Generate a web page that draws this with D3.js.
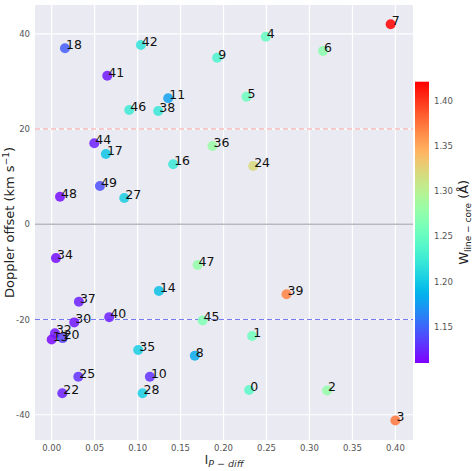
<!DOCTYPE html>
<html>
<head>
<meta charset="utf-8">
<script src="https://cdn.jsdelivr.net/npm/d3@7"></script>
<style>
  body { margin: 0; background: #fff; }
  text { font-family: "DejaVu Sans", sans-serif; }
</style>
</head>
<body>
<svg width="474" height="471"></svg>
<script>
// point ids, intensity difference, doppler offset, line-core width
const ids = [0,1,2,3,4,5,6,7,8,9,10,11,13,14,16,17,18,20,22,24,25,27,28,30,32,34,35,36,37,38,39,40,41,42,44,45,46,47,48,49];
const idiff = [0.2298,0.2333,0.3205,0.400,0.2492,0.2267,0.3158,0.3945,0.1666,0.1926,0.1143,0.1356,0.000,0.1248,0.1414,0.0631,0.0155,0.0128,0.0124,0.2345,0.031,0.0845,0.1058,0.0263,0.0038,0.005,0.1007,0.1872,0.0317,0.124,0.2733,0.067,0.0647,0.1038,0.0496,0.1756,0.0903,0.1698,0.0097,0.0562];
const doppler = [-34.8,-23.45,-34.9,-41.2,39.4,26.8,36.4,42.0,-27.6,34.98,-32.0,26.46,-24.2,-14.0,12.6,14.76,36.95,-23.9,-35.5,12.24,-32.0,5.52,-35.5,-20.6,-22.9,-7.1,-26.4,16.44,-16.25,23.79,-14.7,-19.5,31.2,37.65,17.0,-20.2,24.0,-8.55,5.8,8.04];
const wcore = [1.244,1.256,1.278,1.374,1.250,1.253,1.272,1.421,1.182,1.234,1.129,1.178,1.113,1.194,1.222,1.197,1.147,1.135,1.122,1.320,1.129,1.203,1.203,1.119,1.119,1.116,1.203,1.281,1.122,1.222,1.368,1.122,1.119,1.219,1.122,1.266,1.225,1.278,1.116,1.141];

const xTicks = [0, 0.05, 0.1, 0.15, 0.2, 0.25, 0.3, 0.35, 0.4];
const yTicks = [-40, -20, 0, 20, 40];
const cTicks = [1.15, 1.20, 1.25, 1.30, 1.35, 1.40];

let svg = d3.select("svg");

const plot = {left: 35, right: 413, top: 5, bottom: 440};

let x = d3.scaleLinear().domain([-0.0194, 0.4205]).range([plot.left, plot.right]);
let y = d3.scaleLinear().domain([-45.3, 46.05]).range([plot.bottom, plot.top]);

// matplotlib "rainbow"
function rainbow(t) {
    t = Math.max(0, Math.min(1, t));
    let r = Math.min(1, Math.abs(2 * t - 0.5));
    let g = Math.sin(Math.PI * t);
    let b = Math.cos(Math.PI * t / 2);
    return d3.rgb(r * 255, g * 255, b * 255).formatHex();
}
const wMin = 1.11, wMax = 1.421;
let color = w => rainbow((w - wMin) / (wMax - wMin));

// background + grid
svg.append("rect")
    .attr("x", plot.left).attr("y", plot.top)
    .attr("width", plot.right - plot.left).attr("height", plot.bottom - plot.top)
    .attr("fill", "#eaeaf2");

svg.append("g").selectAll("line")
    .data(xTicks).enter().append("line")
    .attr("x1", d => x(d)).attr("x2", d => x(d))
    .attr("y1", plot.top).attr("y2", plot.bottom)
    .attr("stroke", "#fff").attr("stroke-width", 1.2);

svg.append("g").selectAll("line")
    .data(yTicks).enter().append("line")
    .attr("x1", plot.left).attr("x2", plot.right)
    .attr("y1", d => y(d)).attr("y2", d => y(d))
    .attr("stroke", "#fff").attr("stroke-width", 1.2);

// reference lines
svg.append("line")
    .attr("x1", plot.left).attr("x2", plot.right)
    .attr("y1", y(0)).attr("y2", y(0))
    .attr("stroke", "#b8b8c0").attr("stroke-width", 1.5);
svg.append("line")
    .attr("x1", plot.left).attr("x2", plot.right)
    .attr("y1", y(20)).attr("y2", y(20))
    .attr("stroke", "#f4a0a0").attr("stroke-width", 1.1)
    .attr("stroke-dasharray", "5,3");
svg.append("line")
    .attr("x1", plot.left).attr("x2", plot.right)
    .attr("y1", y(-20)).attr("y2", y(-20))
    .attr("stroke", "#7878f0").attr("stroke-width", 1.1)
    .attr("stroke-dasharray", "5,3");

// tick labels
svg.append("g").selectAll("text")
    .data(xTicks).enter().append("text")
    .attr("x", d => x(d)).attr("y", 451)
    .attr("text-anchor", "middle")
    .attr("font-size", 8.5).attr("fill", "#555")
    .text(d => d3.format(".2f")(d));

svg.append("g").selectAll("text")
    .data(yTicks).enter().append("text")
    .attr("x", 30).attr("y", d => y(d) + 3)
    .attr("text-anchor", "end")
    .attr("font-size", 8.5).attr("fill", "#555")
    .text(d => d);

// axis labels
let xl = svg.append("text")
    .attr("x", 224).attr("y", 464)
    .attr("text-anchor", "middle")
    .attr("font-size", 13).attr("fill", "#333");
xl.append("tspan").text("I");
xl.append("tspan").attr("font-size", 9.5).attr("font-style", "italic").attr("dy", 3).text("P − diff");

let yl = svg.append("text")
    .attr("transform", `translate(14,${(plot.top + plot.bottom) / 2}) rotate(-90)`)
    .attr("text-anchor", "middle")
    .attr("font-size", 13).attr("fill", "#222");
yl.append("tspan").text("Doppler offset (km s");
yl.append("tspan").attr("font-size", 9).attr("dy", -5).text("−1");
yl.append("tspan").attr("dy", 5).text(")");

// points
let pts = d3.range(ids.length);
let marks = svg.append("g");
marks.selectAll("circle")
    .data(pts).enter().append("circle")
    .attr("cx", i => x(idiff[i]))
    .attr("cy", i => y(doppler[i]))
    .attr("r", 5)
    .attr("fill", i => color(wcore[i]))
    .attr("fill-opacity", 0.85);

marks.selectAll("text")
    .data(pts).enter().append("text")
    .attr("x", i => x(idiff[i]) + 1)
    .attr("y", i => y(doppler[i]) + 1)
    .attr("font-size", 12.5).attr("fill", "#111")
    .text(i => ids[i]);

// colorbar
const cb = {x: 415, w: 14, top: 81.7, bottom: 363};
let c = d3.scaleLinear().domain([wMin, wMax]).range([cb.bottom, cb.top]);

let grad = svg.append("defs").append("linearGradient")
    .attr("id", "cbgrad")
    .attr("x1", 0).attr("y1", 1).attr("x2", 0).attr("y2", 0);
grad.selectAll("stop")
    .data(d3.range(0, 1.0001, 0.02)).enter().append("stop")
    .attr("offset", d => d)
    .attr("stop-color", d => rainbow(d));

svg.append("rect")
    .attr("x", cb.x).attr("y", cb.top)
    .attr("width", cb.w).attr("height", cb.bottom - cb.top)
    .attr("fill", "url(#cbgrad)");

svg.append("g").selectAll("text")
    .data(cTicks).enter().append("text")
    .attr("x", 434).attr("y", d => c(d) + 3)
    .attr("font-size", 8.5).attr("fill", "#555")
    .text(d => d3.format(".2f")(d));

let cl = svg.append("text")
    .attr("transform", `translate(468,${(cb.top + cb.bottom) / 2}) rotate(-90)`)
    .attr("text-anchor", "middle")
    .attr("font-size", 13).attr("fill", "#222");
cl.append("tspan").text("W");
cl.append("tspan").attr("font-size", 9).attr("dy", 3).text("line − core");
cl.append("tspan").attr("dy", -3).text(" (Å)");
</script>
</body>
</html>
